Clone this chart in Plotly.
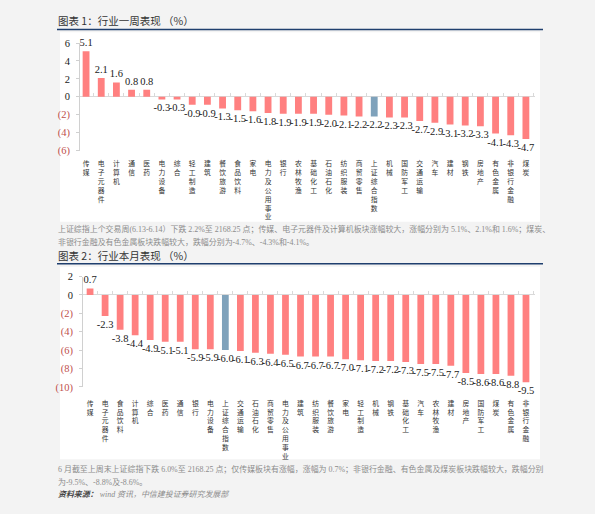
import plotly.graph_objects as go

W, H = 595, 514

# ---------------- data ----------------
cats1 = ["传媒", "电子元器件", "计算机", "通信", "医药", "电力设备", "综合", "轻工制造", "建筑",
         "餐饮旅游", "食品饮料", "家电", "电力及公用事业", "银行", "农林牧渔", "基础化工", "石油石化",
         "纺织服装", "商贸零售", "上证综合指数", "机械", "国防军工", "交通运输", "汽车", "建材", "钢铁",
         "房地产", "有色金属", "非银行金融", "煤炭"]
vals1 = [5.1, 2.1, 1.6, 0.8, 0.8, -0.3, -0.3, -0.9, -0.9, -1.3, -1.5, -1.6, -1.8, -1.9, -1.9, -1.9,
         -2.0, -2.1, -2.2, -2.2, -2.3, -2.3, -2.7, -2.9, -3.1, -3.2, -3.3, -4.1, -4.3, -4.7]

cats2 = ["传媒", "电子元器件", "食品饮料", "计算机", "综合", "医药", "通信", "银行", "电力设备",
         "上证综合指数", "交通运输", "石油石化", "商贸零售", "电力及公用事业", "建筑", "纺织服装",
         "餐饮旅游", "家电", "轻工制造", "机械", "钢铁", "基础化工", "汽车", "农林牧渔", "建材",
         "房地产", "国防军工", "煤炭", "有色金属", "非银行金融"]
vals2 = [0.7, -2.3, -3.8, -4.4, -4.9, -5.1, -5.1, -5.9, -5.9, -6.0, -6.1, -6.3, -6.4, -6.5, -6.7,
         -6.7, -6.7, -7.0, -7.1, -7.2, -7.2, -7.3, -7.5, -7.5, -7.7, -8.5, -8.6, -8.6, -8.8, -9.5]

yticks1 = [6, 4, 2, 0, -2, -4, -6]
yticks2 = [2, 0, -2, -4, -6, -8, -10]

index_name = "上证综合指数"

title1 = "图表 1：行业一周表现 （%）"
title2 = "图表 2：行业本月表现 （%）"
note1a = "上证综指上个交易周(6.13-6.14）下跌 2.2%至 2168.25 点；传媒、电子元器件及计算机板块涨幅较大，涨幅分别为 5.1%、2.1%和 1.6%；煤炭、"
note1b = "非银行金融及有色金属板块跌幅较大，跌幅分别为-4.7%、-4.3%和-4.1%。"
note2a = "6 月截至上周末上证综指下跌 6.0%至 2168.25 点；仅传媒板块有涨幅，涨幅为 0.7%；非银行金融、有色金属及煤炭板块跌幅较大，跌幅分别"
note2b = "为-9.5%、-8.8%及-8.6%。"
source_head = "资料来源："
source_body = "wind 资讯，中信建投证券研究发展部"

# ---------------- styling ----------------
RED = "#ff8080"
BLUE = "#7fa2bb"
NEG = "#c0504d"
SERIF = "Liberation Serif, Noto Sans CJK SC"
CJK = "Noto Sans CJK SC, Liberation Serif"


def px(x):
    return x / W


def py(y):
    return 1 - y / H


def fmt_tick(v):
    if v < 0:
        return f"<span style='color:{NEG}'>({abs(v)})</span>"
    return str(v)


def vert(s):
    return "<br>".join(list(s))


def colors(cats):
    return [BLUE if c == index_name else RED for c in cats]


fig = go.Figure()

for i, (cats, vals) in enumerate([(cats1, vals1), (cats2, vals2)]):
    xa = "x" if i == 0 else "x2"
    ya = "y" if i == 0 else "y2"
    fig.add_trace(go.Bar(
        x=list(range(len(cats))), y=vals, xaxis=xa, yaxis=ya,
        marker=dict(color=colors(cats), line=dict(width=0)),
        width=0.45,
        text=[f"{v:.1f}" for v in vals], textposition="outside",
        textfont=dict(family=SERIF, size=10.5, color="#1a1a1a"),
        constraintext="none", cliponaxis=False, showlegend=False,
        hoverinfo="skip",
    ))

# geometry
ydom1 = [py(149), py(39)]
ydom2 = [py(391), py(278)]
xdom1 = [px(80), px(535)]
xdom2 = [px(83), px(535)]
xr1 = [-0.4, 29.6]
xr2 = [-0.47, 29.6]
yr1 = [-6, 6]
yr2 = [-10, 2]


def zero_pos(dom, rng):
    return dom[0] + (0 - rng[0]) / (rng[1] - rng[0]) * (dom[1] - dom[0])


cat_axis = dict(showgrid=False, zeroline=False, showline=False, ticks="",
                tickangle=0, tickfont=dict(family=CJK, size=6.8, color="#333"))
val_axis = dict(showgrid=False, showline=True, linecolor="#d0d0d0", linewidth=1,
                ticks="outside", ticklen=3, tickcolor="#d0d0d0",
                tickfont=dict(family=SERIF, size=10.5, color="#1a1a1a"),
                zeroline=True, zerolinecolor="#d9d9d9", zerolinewidth=1,
                ticklabelstandoff=4)
bound_axis = dict(showgrid=False, zeroline=False, showline=False, ticks="outside",
                  ticklen=4, tickcolor="#d9d9d9", showticklabels=False, side="top")

fig.update_layout(
    width=W, height=H, margin=dict(l=0, r=0, t=0, b=0),
    paper_bgcolor="#f3f3f3", plot_bgcolor="rgba(0,0,0,0)",
    bargap=0.5,
    xaxis=dict(domain=xdom1, range=xr1, anchor="y", ticklabelstandoff=8,
               tickvals=list(range(len(cats1))), ticktext=[vert(c) for c in cats1], **cat_axis),
    yaxis=dict(domain=ydom1, range=yr1, anchor="x",
               tickvals=yticks1, ticktext=[fmt_tick(v) for v in yticks1], **val_axis),
    xaxis2=dict(domain=xdom2, range=xr2, anchor="y2", ticklabelstandoff=11,
                tickvals=list(range(len(cats2))), ticktext=[vert(c) for c in cats2], **cat_axis),
    yaxis2=dict(domain=ydom2, range=yr2, anchor="x2",
                tickvals=yticks2, ticktext=[fmt_tick(v) for v in yticks2], **val_axis),
    xaxis3=dict(domain=xdom1, range=xr1, overlaying="x", anchor="free",
                position=zero_pos(ydom1, yr1),
                tickvals=[k + 0.5 for k in range(-1, len(cats1))], **bound_axis),
    xaxis4=dict(domain=xdom2, range=xr2, overlaying="x2", anchor="free",
                position=zero_pos(ydom2, yr2),
                tickvals=[k + 0.5 for k in range(-1, len(cats2))], **bound_axis),
)
# dummy invisible traces to activate overlay axes
fig.add_trace(go.Scatter(x=[0], y=[0], xaxis="x3", yaxis="y", mode="markers",
                         marker=dict(opacity=0), showlegend=False, hoverinfo="skip"))
fig.add_trace(go.Scatter(x=[0], y=[0], xaxis="x4", yaxis="y2", mode="markers",
                         marker=dict(opacity=0), showlegend=False, hoverinfo="skip"))

shapes = [
    dict(type="rect", xref="paper", yref="paper", x0=px(60), x1=px(540), y0=py(222), y1=py(28),
         fillcolor="white", line=dict(width=0), layer="below"),
    dict(type="rect", xref="paper", yref="paper", x0=px(60), x1=px(540), y0=py(465), y1=py(268),
         fillcolor="white", line=dict(width=0), layer="below"),
    dict(type="line", xref="paper", yref="paper", x0=px(57), x1=px(543), y0=py(25), y1=py(25),
         line=dict(color="#1f3f6e", width=1.5)),
    dict(type="line", xref="paper", yref="paper", x0=px(57), x1=px(543), y0=py(265), y1=py(265),
         line=dict(color="#1f3f6e", width=1.5)),
]
fig.update_layout(shapes=shapes)


def ann(text, x, y, size, color, family=CJK):
    return dict(text=text, xref="paper", yref="paper", x=px(x), y=py(y), xanchor="left",
                yanchor="middle", showarrow=False, font=dict(family=family, size=size, color=color))


NOTE = "#8c8c8c"
NS = 7.95
anns = [
    ann(title1, 56, 16, 10.5, "#333"),
    ann(title2, 56, 256, 10.5, "#333"),
    ann(note1a, 56, 229, NS, NOTE, SERIF),
    ann(note1b, 56, 243, NS, NOTE, SERIF),
    ann(note2a, 56, 475, NS, NOTE, SERIF),
    ann(note2b, 56, 488, NS, NOTE, SERIF),
    ann(f"<b><i>{source_head}</i></b> <i><span style='color:{NOTE}'>{source_body}</span></i>",
        56, 501, NS, "#444", SERIF),
]
fig.update_layout(annotations=anns)

fig.write_html("out.html")
